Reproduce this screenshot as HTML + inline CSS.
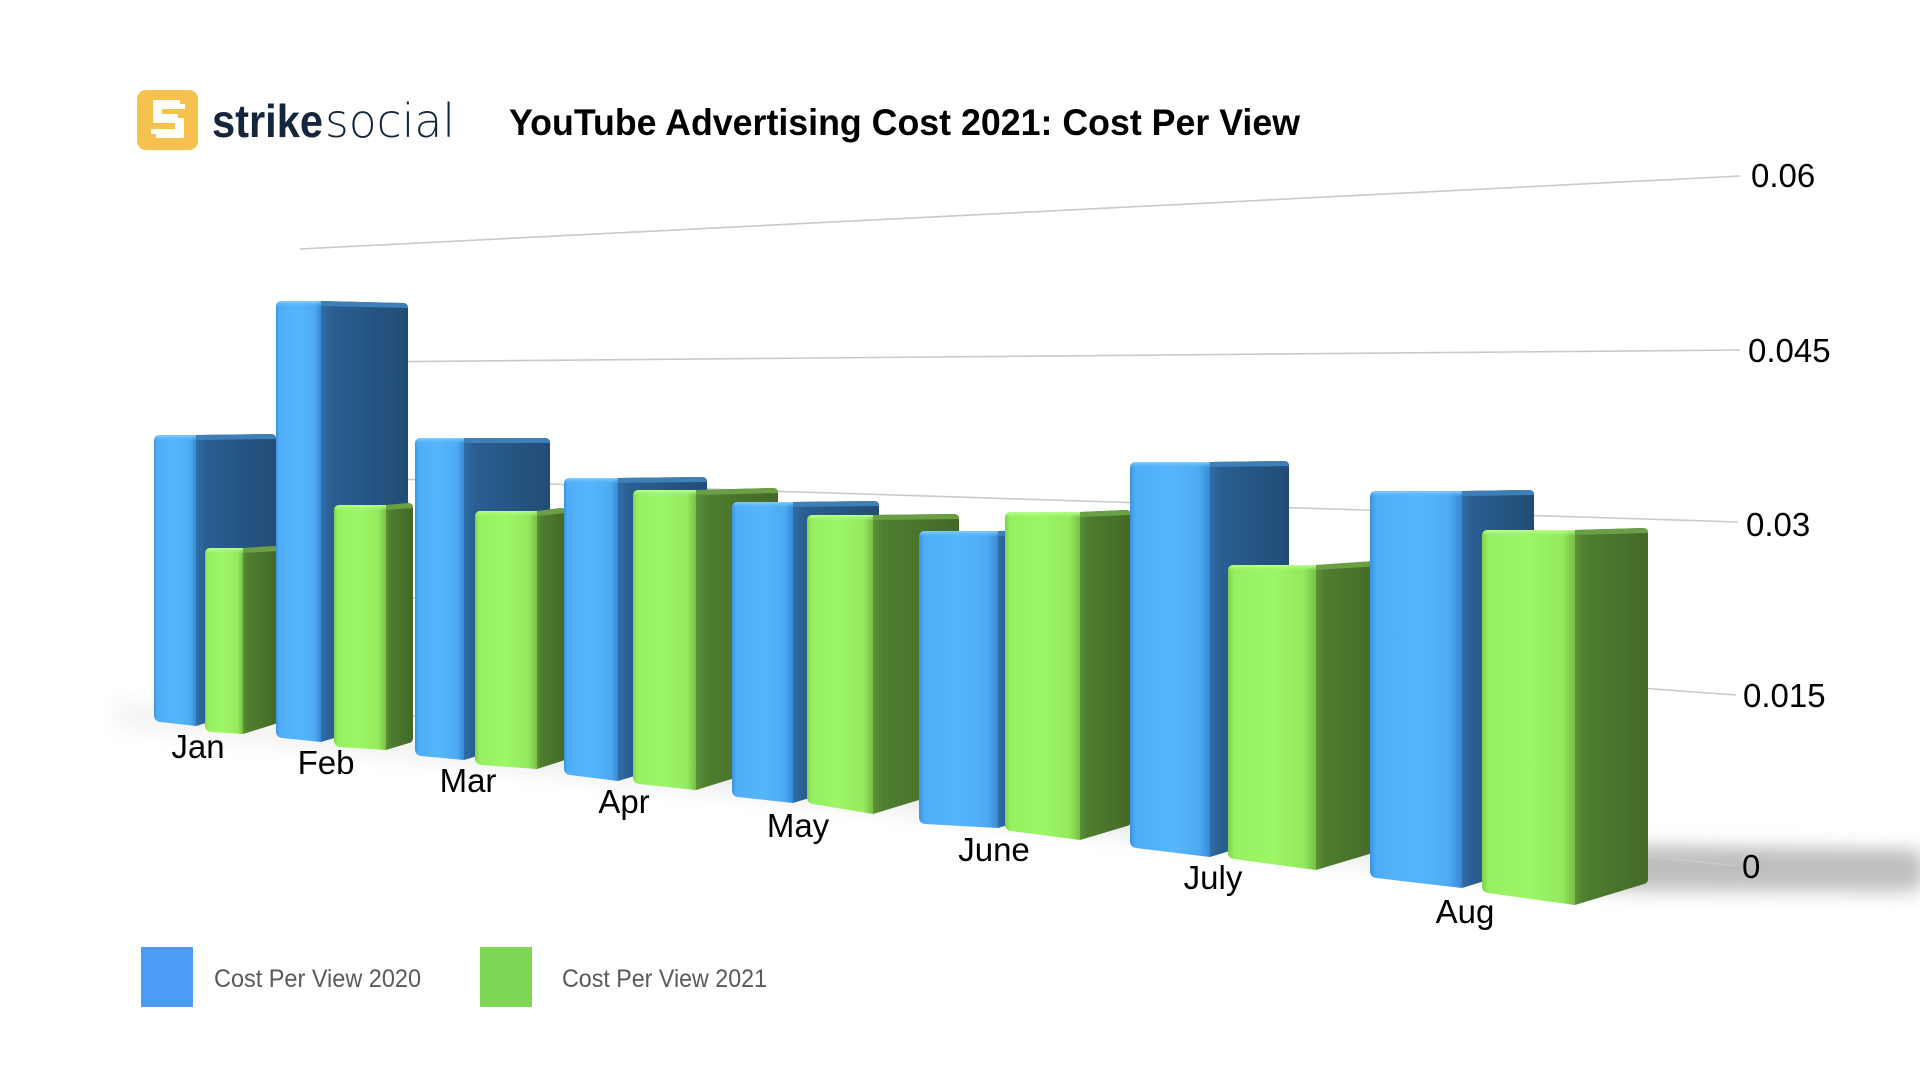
<!DOCTYPE html>
<html>
<head>
<meta charset="utf-8">
<style>
html,body{margin:0;padding:0;background:#fff;width:1920px;height:1080px;overflow:hidden;}
svg{display:block;}
text{font-family:"Liberation Sans",Arial,sans-serif;}
</style>
</head>
<body>
<svg width="1920" height="1080" viewBox="0 0 1920 1080" xmlns="http://www.w3.org/2000/svg">
<defs>
  <linearGradient id="fB" x1="0" y1="0" x2="1" y2="0">
    <stop offset="0" stop-color="#3b93e0"/>
    <stop offset="0.07" stop-color="#4fadf7"/>
    <stop offset="0.5" stop-color="#55b5fb"/>
    <stop offset="0.86" stop-color="#4eabf3"/>
    <stop offset="1" stop-color="#3789d4"/>
  </linearGradient>
  <linearGradient id="sB" x1="0" y1="0" x2="1" y2="0">
    <stop offset="0" stop-color="#2f6ea8"/>
    <stop offset="0.12" stop-color="#2a5f91"/>
    <stop offset="1" stop-color="#224c76"/>
  </linearGradient>
  <linearGradient id="fG" x1="0" y1="0" x2="1" y2="0">
    <stop offset="0" stop-color="#80cf4c"/>
    <stop offset="0.07" stop-color="#97f05f"/>
    <stop offset="0.5" stop-color="#9cf665"/>
    <stop offset="0.86" stop-color="#93ea5c"/>
    <stop offset="1" stop-color="#76c046"/>
  </linearGradient>
  <linearGradient id="sG" x1="0" y1="0" x2="1" y2="0">
    <stop offset="0" stop-color="#5c9236"/>
    <stop offset="0.12" stop-color="#4f7f2f"/>
    <stop offset="1" stop-color="#436828"/>
  </linearGradient>
  <linearGradient id="tB" x1="0" y1="0" x2="0" y2="1">
    <stop offset="0" stop-color="#86ceff"/>
    <stop offset="1" stop-color="#55b5fb" stop-opacity="0"/>
  </linearGradient>
  <linearGradient id="tG" x1="0" y1="0" x2="0" y2="1">
    <stop offset="0" stop-color="#bcff92"/>
    <stop offset="1" stop-color="#9cf665" stop-opacity="0"/>
  </linearGradient>
  <linearGradient id="shadowGrad" x1="0" y1="0" x2="1" y2="0">
    <stop offset="0" stop-color="#f3f3f3"/>
    <stop offset="0.8" stop-color="#dedede"/>
    <stop offset="1" stop-color="#cccccc"/>
  </linearGradient>
  <filter id="blur" x="-20%" y="-200%" width="140%" height="500%">
    <feGaussianBlur stdDeviation="10"/>
  </filter>
  <filter id="blur2" x="-20%" y="-200%" width="140%" height="500%">
    <feGaussianBlur stdDeviation="9"/>
  </filter>
</defs>

<!-- Logo -->
<rect x="137" y="90" width="61" height="60" rx="9" fill="#f4c24d"/>
<path d="M153,100 L180,100 L180,104 L185,104 L185,109 L162,109 L162,114 L178,114 L178,118 L184,118 L184,138 L156,138 L156,134 L151,134 L151,129 L175,129 L175,123 L153,123 Z" fill="#ffffff"/>
<text x="212" y="137" font-size="46" font-weight="bold" fill="#14263b" textLength="111" lengthAdjust="spacingAndGlyphs">strike</text>
<text x="325" y="137" font-size="46" font-weight="200" fill="#14263b" textLength="130" lengthAdjust="spacingAndGlyphs" style="font-family:'DejaVu Sans','Liberation Sans',sans-serif;">social</text>

<!-- Title -->
<text x="509" y="135" font-size="37" font-weight="bold" fill="#000" textLength="791" lengthAdjust="spacingAndGlyphs">YouTube Advertising Cost 2021: Cost Per View</text>

<!-- Floor shadows -->
<path d="M115,700 L1650,848 L1920,852 L1920,892 L1650,892 L115,728 Z" fill="url(#shadowGrad)" filter="url(#blur)" opacity="0.9"/>
<path d="M1600,848 L1920,854 L1920,884 L1600,886 Z" fill="#bdbdbd" filter="url(#blur2)"/>

<!-- Gridlines -->
<g stroke="#c9c9c9" stroke-width="1.6" fill="none">
  <line x1="300" y1="249" x2="1740" y2="176"/>
  <line x1="300" y1="362.5" x2="1740" y2="350"/>
  <line x1="300" y1="476" x2="1738" y2="522"/>
  <line x1="300" y1="590" x2="1736" y2="695"/>
  <line x1="300" y1="703" x2="1735" y2="866"/>
</g>

<!-- Axis labels -->
<g font-size="33" fill="#000">
  <text x="1751" y="187">0.06</text>
  <text x="1748" y="362">0.045</text>
  <text x="1746" y="536">0.03</text>
  <text x="1743" y="707">0.015</text>
  <text x="1742" y="878">0</text>
</g>

<!-- Bars -->
<!-- Jan blue -->
<path d="M196,435 L271,434 Q276,434 276,439 L276,698 Q276,702 272,703 L196,726 Z" fill="url(#sB)"/>
<path d="M196,435 L271,434 Q276,434 276,439 L196,440 Z" fill="#3f7fb8"/>
<path d="M154,441 Q154,435 160,435 L196,435 L196,726 L160,722 Q154,721 154,715 Z" fill="url(#fB)"/>
<path d="M160,435 L196,435 L196,441 L154,441 Q154,435 160,435 Z" fill="url(#tB)"/>
<!-- Jan green -->
<path d="M243,548 L274,546 Q279,546 279,551 L279,719 Q279,723 275,724 L243,734 Z" fill="url(#sG)"/>
<path d="M243,548 L274,546 Q279,546 279,551 L243,553 Z" fill="#6b9f45"/>
<path d="M205,554 Q205,548 211,548 L243,548 L243,734 L211,732 Q205,731 205,725 Z" fill="url(#fG)"/>
<path d="M211,548 L243,548 L243,554 L205,554 Q205,548 211,548 Z" fill="url(#tG)"/>
<!-- Feb blue -->
<path d="M321,301 L403,303 Q408,303 408,308 L408,712 Q408,716 404,717 L321,742 Z" fill="url(#sB)"/>
<path d="M321,301 L403,303 Q408,303 408,308 L321,306 Z" fill="#3f7fb8"/>
<path d="M276,307 Q276,301 282,301 L321,301 L321,742 L282,738 Q276,737 276,731 Z" fill="url(#fB)"/>
<path d="M282,301 L321,301 L321,307 L276,307 Q276,301 282,301 Z" fill="url(#tB)"/>
<!-- Feb green -->
<path d="M386,505 L408,503 Q413,503 413,508 L413,738 Q413,742 409,743 L386,750 Z" fill="url(#sG)"/>
<path d="M386,505 L408,503 Q413,503 413,508 L386,510 Z" fill="#6b9f45"/>
<path d="M334,511 Q334,505 340,505 L386,505 L386,750 L340,747 Q334,746 334,740 Z" fill="url(#fG)"/>
<path d="M340,505 L386,505 L386,511 L334,511 Q334,505 340,505 Z" fill="url(#tG)"/>
<!-- Mar blue -->
<path d="M464,438 L545,438 Q550,438 550,443 L550,730 Q550,734 546,735 L464,760 Z" fill="url(#sB)"/>
<path d="M464,438 L545,438 Q550,438 550,443 L464,443 Z" fill="#3f7fb8"/>
<path d="M415,444 Q415,438 421,438 L464,438 L464,760 L421,756 Q415,755 415,749 Z" fill="url(#fB)"/>
<path d="M421,438 L464,438 L464,444 L415,444 Q415,438 421,438 Z" fill="url(#tB)"/>
<!-- Mar green -->
<path d="M537,511 L561,508 Q566,508 566,513 L566,756 Q566,760 562,761 L537,769 Z" fill="url(#sG)"/>
<path d="M537,511 L561,508 Q566,508 566,513 L537,516 Z" fill="#6b9f45"/>
<path d="M475,517 Q475,511 481,511 L537,511 L537,769 L481,765 Q475,764 475,758 Z" fill="url(#fG)"/>
<path d="M481,511 L537,511 L537,517 L475,517 Q475,511 481,511 Z" fill="url(#tG)"/>
<!-- Apr blue -->
<path d="M618,478 L702,477 Q707,477 707,482 L707,750 Q707,754 703,755 L618,781 Z" fill="url(#sB)"/>
<path d="M618,478 L702,477 Q707,477 707,482 L618,483 Z" fill="#3f7fb8"/>
<path d="M564,484 Q564,478 570,478 L618,478 L618,781 L570,775 Q564,774 564,768 Z" fill="url(#fB)"/>
<path d="M570,478 L618,478 L618,484 L564,484 Q564,478 570,478 Z" fill="url(#tB)"/>
<!-- Apr green -->
<path d="M696,490 L773,488 Q778,488 778,493 L778,761 Q778,765 774,766 L696,790 Z" fill="url(#sG)"/>
<path d="M696,490 L773,488 Q778,488 778,493 L696,495 Z" fill="#6b9f45"/>
<path d="M633,496 Q633,490 639,490 L696,490 L696,790 L639,784 Q633,783 633,777 Z" fill="url(#fG)"/>
<path d="M639,490 L696,490 L696,496 L633,496 Q633,490 639,490 Z" fill="url(#tG)"/>
<!-- May blue -->
<path d="M793,502 L874,501 Q879,501 879,506 L879,773 Q879,777 875,778 L793,803 Z" fill="url(#sB)"/>
<path d="M793,502 L874,501 Q879,501 879,506 L793,507 Z" fill="#3f7fb8"/>
<path d="M732,508 Q732,502 738,502 L793,502 L793,803 L738,797 Q732,796 732,790 Z" fill="url(#fB)"/>
<path d="M738,502 L793,502 L793,508 L732,508 Q732,502 738,502 Z" fill="url(#tB)"/>
<!-- May green -->
<path d="M873,515 L954,514 Q959,514 959,519 L959,784 Q959,788 955,789 L873,814 Z" fill="url(#sG)"/>
<path d="M873,515 L954,514 Q959,514 959,519 L873,520 Z" fill="#6b9f45"/>
<path d="M807,521 Q807,515 813,515 L873,515 L873,814 L813,804 Q807,803 807,797 Z" fill="url(#fG)"/>
<path d="M813,515 L873,515 L873,521 L807,521 Q807,515 813,515 Z" fill="url(#tG)"/>
<!-- June blue -->
<path d="M998,531 L1070,530 Q1075,530 1075,535 L1075,801 Q1075,805 1071,806 L998,828 Z" fill="url(#sB)"/>
<path d="M998,531 L1070,530 Q1075,530 1075,535 L998,536 Z" fill="#3f7fb8"/>
<path d="M919,537 Q919,531 925,531 L998,531 L998,828 L925,824 Q919,823 919,817 Z" fill="url(#fB)"/>
<path d="M925,531 L998,531 L998,537 L919,537 Q919,531 925,531 Z" fill="url(#tB)"/>
<!-- June green -->
<path d="M1080,512 L1126,510 Q1131,510 1131,515 L1131,821 Q1131,825 1127,826 L1080,840 Z" fill="url(#sG)"/>
<path d="M1080,512 L1126,510 Q1131,510 1131,515 L1080,517 Z" fill="#6b9f45"/>
<path d="M1005,518 Q1005,512 1011,512 L1080,512 L1080,840 L1011,831 Q1005,830 1005,824 Z" fill="url(#fG)"/>
<path d="M1011,512 L1080,512 L1080,518 L1005,518 Q1005,512 1011,512 Z" fill="url(#tG)"/>
<!-- July blue -->
<path d="M1210,462 L1284,461 Q1289,461 1289,466 L1289,829 Q1289,833 1285,834 L1210,857 Z" fill="url(#sB)"/>
<path d="M1210,462 L1284,461 Q1289,461 1289,466 L1210,467 Z" fill="#3f7fb8"/>
<path d="M1130,468 Q1130,462 1136,462 L1210,462 L1210,857 L1136,848 Q1130,847 1130,841 Z" fill="url(#fB)"/>
<path d="M1136,462 L1210,462 L1210,468 L1130,468 Q1130,462 1136,462 Z" fill="url(#tB)"/>
<!-- July green -->
<path d="M1316,565 L1375,561 Q1380,561 1380,566 L1380,847 Q1380,851 1376,852 L1316,870 Z" fill="url(#sG)"/>
<path d="M1316,565 L1375,561 Q1380,561 1380,566 L1316,570 Z" fill="#6b9f45"/>
<path d="M1228,571 Q1228,565 1234,565 L1316,565 L1316,870 L1234,859 Q1228,858 1228,852 Z" fill="url(#fG)"/>
<path d="M1234,565 L1316,565 L1316,571 L1228,571 Q1228,565 1234,565 Z" fill="url(#tG)"/>
<!-- Aug blue -->
<path d="M1462,491 L1529,490 Q1534,490 1534,495 L1534,862 Q1534,866 1530,867 L1462,888 Z" fill="url(#sB)"/>
<path d="M1462,491 L1529,490 Q1534,490 1534,495 L1462,496 Z" fill="#3f7fb8"/>
<path d="M1370,497 Q1370,491 1376,491 L1462,491 L1462,888 L1376,878 Q1370,877 1370,871 Z" fill="url(#fB)"/>
<path d="M1376,491 L1462,491 L1462,497 L1370,497 Q1370,491 1376,491 Z" fill="url(#tB)"/>
<!-- Aug green -->
<path d="M1575,530 L1643,528 Q1648,528 1648,533 L1648,879 Q1648,883 1644,884 L1575,905 Z" fill="url(#sG)"/>
<path d="M1575,530 L1643,528 Q1648,528 1648,533 L1575,535 Z" fill="#6b9f45"/>
<path d="M1482,536 Q1482,530 1488,530 L1575,530 L1575,905 L1488,893 Q1482,892 1482,886 Z" fill="url(#fG)"/>
<path d="M1488,530 L1575,530 L1575,536 L1482,536 Q1482,530 1488,530 Z" fill="url(#tG)"/>

<!-- Month labels -->
<g font-size="33" fill="#000" text-anchor="middle">
  <text x="198" y="758">Jan</text>
  <text x="326" y="774">Feb</text>
  <text x="468" y="792">Mar</text>
  <text x="624" y="813">Apr</text>
  <text x="798" y="837">May</text>
  <text x="994" y="861">June</text>
  <text x="1213" y="889">July</text>
  <text x="1465" y="923">Aug</text>
</g>

<!-- Legend -->
<rect x="141" y="947" width="52" height="60" fill="#4a9cf6"/>
<text x="214" y="987" font-size="25" fill="#5a5a5a" textLength="207" lengthAdjust="spacingAndGlyphs">Cost Per View 2020</text>
<rect x="480" y="947" width="52" height="60" fill="#7fd655"/>
<text x="562" y="987" font-size="25" fill="#5a5a5a" textLength="205" lengthAdjust="spacingAndGlyphs">Cost Per View 2021</text>
</svg>
</body>
</html>
